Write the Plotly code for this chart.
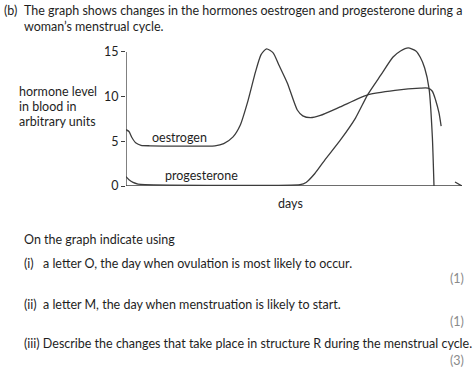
import plotly.graph_objects as go

# ---- data ----
oestrogen_days = [0.0, 0.27, 0.55, 0.91, 1.37, 2.19, 8.1, 8.9, 9.75, 10.4, 11.1, 11.8, 12.3, 12.8,
                  13.4, 13.9, 14.7, 15.6, 16.1, 16.8, 17.7, 19.5, 22.0, 24.5, 26.8, 27.5, 27.9,
                  28.2, 28.5, 28.7]
oestrogen_level = [6.3, 6.1, 5.4, 4.8, 4.55, 4.5, 4.5, 4.75, 5.5, 6.8, 9.5, 12.8, 14.7, 15.35,
                   14.9, 13.6, 11.5, 8.5, 7.85, 7.65, 7.9, 8.85, 10.2, 10.7, 10.95, 10.95, 10.6,
                   9.6, 8.2, 6.7]
progesterone_days = [0.0, 0.27, 0.64, 1.09, 1.73, 15.85, 16.4, 17.2, 18.1, 19.5, 20.9, 22.0, 23.2,
                     24.3, 25.0, 25.7, 26.4, 26.8, 27.2, 27.6, 27.9, 28.05]
progesterone_level = [1.05, 0.7, 0.4, 0.22, 0.15, 0.15, 0.4, 1.4, 2.9, 5.1, 7.6, 10.2, 12.4,
                      14.4, 15.1, 15.45, 15.1, 14.4, 13.2, 10.9, 5.5, 0.0]
y_ticks = [0, 5, 10, 15]
x_end = 30.6
y_top = 16

W, H = 474, 375
L, R, T, B = 126, 12, 42.8, 189
PW, PH = W - L - R, H - T - B

FONT = "Lato"
INK = "#1e1e1e"
LINE = "#3c3c3c"


def px(x):
    return (x - L) / PW


def py(y):
    return 1 - (y - T) / PH


fig = go.Figure()
fig.add_trace(go.Scatter(x=oestrogen_days, y=oestrogen_level, mode="lines",
                         line=dict(color=LINE, width=1.3, shape="spline", smoothing=0.6),
                         hoverinfo="skip", showlegend=False))
fig.add_trace(go.Scatter(x=progesterone_days, y=progesterone_level, mode="lines",
                         line=dict(color=LINE, width=1.3, shape="spline", smoothing=0.5),
                         hoverinfo="skip", showlegend=False))

# axes lines
fig.add_shape(type="line", x0=0, x1=0, y0=0, y1=y_ticks[-1], xref="x", yref="y",
              line=dict(color=LINE, width=1.3))
fig.add_shape(type="line", x0=0, x1=x_end, y0=0, y1=0, xref="x", yref="y",
              line=dict(color=LINE, width=1.3))
fig.add_shape(type="path", xref="x", yref="y", xsizemode="pixel", ysizemode="pixel",
              xanchor=x_end, yanchor=0, path="M -7,4 L 0,0 L -7,-4",
              line=dict(color=LINE, width=1.3))

annotations = []


def txt(s, x, y, size=12.5, anchor="left", color=INK, vanchor="middle"):
    annotations.append(dict(text=s, x=px(x), y=py(y), xref="paper", yref="paper",
                            xanchor=anchor, yanchor=vanchor, showarrow=False,
                            font=dict(family=FONT, size=size, color=color)))


txt("(b)", 2, 10)
txt("The graph shows changes in the hormones oestrogen and progesterone during a", 22, 10)
txt("woman’s menstrual cycle.", 22, 26.5)
txt("hormone level", 17, 91)
txt("in blood in", 17, 106)
txt("arbitrary units", 17, 121)
txt("oestrogen", 150, 137)
txt("progesterone", 163, 175)
txt("days", 290, 204, anchor="center")
txt("On the graph indicate using", 22, 240)
txt("(i)", 22, 264)
txt("a letter O, the day when ovulation is most likely to occur.", 41, 264)
txt("(1)", 466, 279, anchor="right", color="#8a8a8a")
txt("(ii)", 22, 305)
txt("a letter M, the day when menstruation is likely to start.", 41, 305)
txt("(1)", 466, 322, anchor="right", color="#8a8a8a")
txt("(iii) Describe the changes that take place in structure R during the menstrual cycle.", 22, 344)
txt("(3)", 466, 361, anchor="right", color="#8a8a8a")

fig.update_layout(
    width=W, height=H, autosize=False,
    margin=dict(l=L, r=R, t=T, b=B, pad=0),
    paper_bgcolor="white", plot_bgcolor="white",
    annotations=annotations,
    xaxis=dict(range=[0, x_end], showgrid=False, zeroline=False, showline=False,
               showticklabels=False, ticks=""),
    yaxis=dict(range=[0, y_top], showgrid=False, zeroline=False, showline=False,
               tickvals=y_ticks, ticktext=[str(v) for v in y_ticks], ticks="outside",
               ticklen=4, tickwidth=1.2, tickcolor=LINE,
               tickfont=dict(family=FONT, size=12.5, color=INK)),
)

fig.write_html("out.html", config={"displayModeBar": False},
               post_script="document.body.style.margin='0';document.body.style.overflow='hidden';")
